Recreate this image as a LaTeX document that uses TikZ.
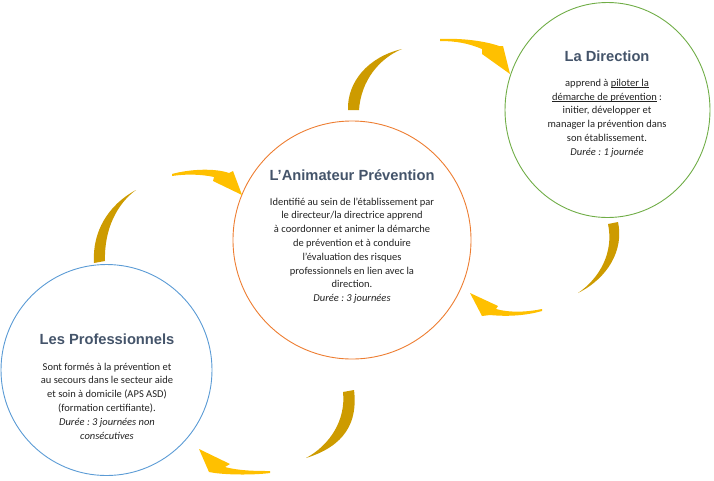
\documentclass[tikz,border=0pt]{standalone}
\usepackage{fontspec}
\setmainfont{Carlito}
\newfontfamily\titrefont{Liberation Sans}
\usetikzlibrary{shapes.geometric}
\frenchspacing

\definecolor{vert}{HTML}{70AD47}
\definecolor{orangec}{HTML}{ED7D31}
\definecolor{bleu}{HTML}{5B9BD5}
\definecolor{gristitre}{HTML}{44546A}
\definecolor{gristexte}{HTML}{222222}
\definecolor{orfonce}{RGB}{205,155,0}
\definecolor{jaune}{HTML}{FFC000}

\newcommand{\souligne}[1]{\underline{\smash{#1}}}

\tikzset{
	rond/.style={circle, draw, line width=0.9pt, inner sep=0pt},
	titre/.style={font=\titrefont\bfseries\fontsize{14.7}{16}\selectfont, text=gristitre, inner sep=0pt},
	corps/.style={align=center, font=\fontsize{10.5}{13.8}\selectfont, text=gristexte, inner sep=0pt}
}

\begin{document}
\begin{tikzpicture}[x=1pt,y=-1pt]
	\useasboundingbox (0,0) rectangle (714,480);

	\node[ellipse, draw=vert, line width=0.9pt, minimum width=205pt, minimum height=215pt] (dir) at (607.5,110) {};
	\node[rond, draw=orangec, minimum size=238pt] (anim) at (352,240) {};
	\node[rond, draw=bleu, minimum size=211pt] (pro) at (106.5,370) {};

	\node[titre] (dirT) at (607,56) {La Direction};
	\node[corps] (dirB) at (607,118) {apprend à \souligne{piloter la}\\
		\souligne{démarche de prévention} :\\
		initier, développer et\\
		manager la prévention dans\\
		son établissement.\\
		\textit{Durée : 1 journée}};

	\node[titre] (animT) at (352,175) {L’Animateur Prévention};
	\node[corps] (animB) at (352,250.5) {Identifié au sein de l’établissement par\\
		le directeur/la directrice apprend\\
		à coordonner et animer la démarche\\
		de prévention et à conduire\\
		l’évaluation des risques\\
		professionnels en lien avec la\\
		direction.\\
		\textit{Durée : 3 journées}};

	\node[titre] (proT) at (107,339) {Les Professionnels};
	\node[corps] (proB) at (107,401) {Sont formés à la prévention et\\
		au secours dans le secteur aide\\
		et soin à domicile (APS ASD)\\
		(formation certifiante).\\
		\textit{Durée : 3 journées non}\\
		\textit{consécutives}};

	% fleche anim -> dir
	\fill[orfonce] (348,110) .. controls (347,82) and (368,57) .. (402,49) .. controls (380,58) and (361,80) .. (359,110) -- cycle;
	\fill[jaune] (440,39) .. controls (462,38) and (485,41) .. (499,46) -- (503,46) -- (510,74) -- (482,54) -- (482,49) .. controls (468,43) and (455,41) .. (440,41) -- cycle;

	% fleche dir -> anim
	\fill[orfonce] (618,222) .. controls (624,250) and (608,278) .. (578,293) .. controls (600,278) and (614,252) .. (608,224) -- cycle;
	\fill[jaune] (470,293) -- (498,306) -- (496,309) .. controls (510,313) and (528,312) .. (542,309) -- (542,311) .. controls (528,315) and (510,317) .. (490,315) -- (482,316) -- cycle;

	% fleche anim -> pro
	\fill[orfonce] (354,390) .. controls (358,422) and (345,446) .. (306,458) .. controls (330,445) and (346,420) .. (343,392) -- cycle;
	\fill[jaune] (199,449) -- (230,464) -- (225,467) .. controls (240,471) and (258,471) .. (270,471) -- (270,473) .. controls (255,475) and (230,475) .. (215,473) -- (209,472) -- cycle;

	% fleche pro -> anim
	\fill[orfonce] (94,263) .. controls (92,232) and (108,205) .. (136,190) .. controls (118,203) and (104,228) .. (105,261) -- cycle;
	\fill[jaune] (172,174) .. controls (190,169) and (215,168) .. (229,173) -- (233,171) -- (242,195) -- (213,181) -- (214,177) .. controls (200,174) and (185,174) .. (172,176) -- cycle;
\end{tikzpicture}
\end{document}
